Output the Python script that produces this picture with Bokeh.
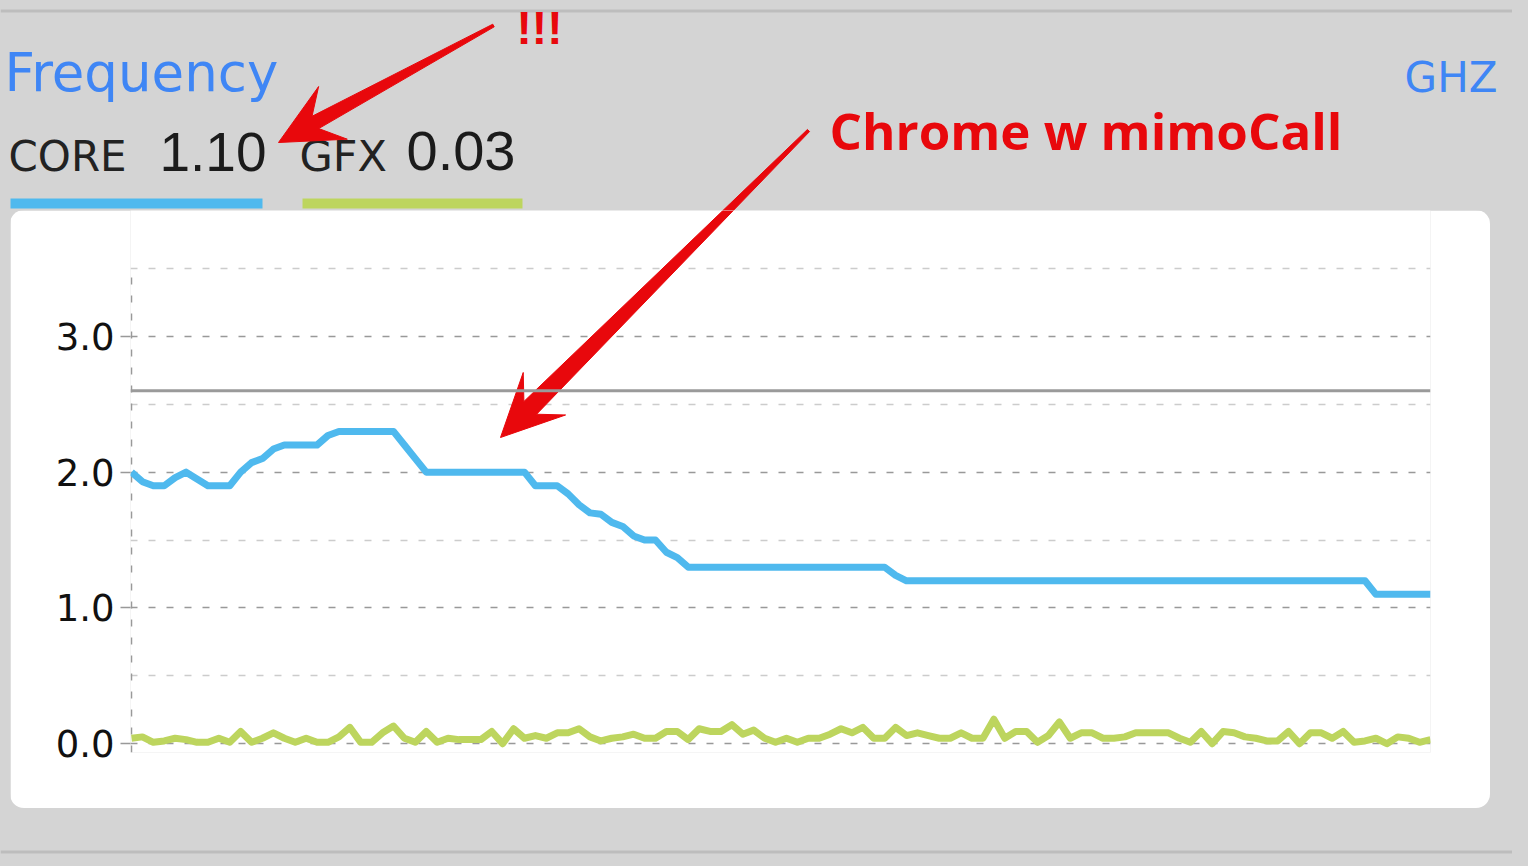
from bokeh.plotting import figure
from bokeh.layouts import column, row
from bokeh.models import (Range1d, FixedTicker, Span, PrintfTickFormatter, Spacer,
                          GlobalInlineStyleSheet)
from bokeh.core.properties import value
from bokeh.embed import file_html
from bokeh.resources import INLINE
import math

# ---------------- data ----------------
core_ghz = [
    2.0, 1.93, 1.9, 1.9, 1.96, 2.0, 1.95, 1.9, 1.9, 1.9,
    2.0, 2.07, 2.1, 2.17, 2.2, 2.2, 2.2, 2.2, 2.27, 2.3,
    2.3, 2.3, 2.3, 2.3, 2.3, 2.2, 2.1, 2.0, 2.0, 2.0,
    2.0, 2.0, 2.0, 2.0, 2.0, 2.0, 2.0, 1.9, 1.9, 1.9,
    1.84, 1.76, 1.7, 1.69, 1.63, 1.6, 1.53, 1.5, 1.5, 1.41,
    1.37, 1.3, 1.3, 1.3, 1.3, 1.3, 1.3, 1.3, 1.3, 1.3,
    1.3, 1.3, 1.3, 1.3, 1.3, 1.3, 1.3, 1.3, 1.3, 1.3,
    1.24, 1.2, 1.2, 1.2, 1.2, 1.2, 1.2, 1.2, 1.2, 1.2,
    1.2, 1.2, 1.2, 1.2, 1.2, 1.2, 1.2, 1.2, 1.2, 1.2,
    1.2, 1.2, 1.2, 1.2, 1.2, 1.2, 1.2, 1.2, 1.2, 1.2,
    1.2, 1.2, 1.2, 1.2, 1.2, 1.2, 1.2, 1.2, 1.2, 1.2,
    1.2, 1.2, 1.2, 1.2, 1.1, 1.1, 1.1, 1.1, 1.1, 1.1,
]
gfx_ghz = [
    0.04, 0.05, 0.01, 0.02, 0.04, 0.03, 0.01, 0.01, 0.04, 0.01,
    0.09, 0.01, 0.04, 0.08, 0.04, 0.01, 0.04, 0.01, 0.01, 0.05,
    0.12, 0.01, 0.01, 0.08, 0.13, 0.04, 0.01, 0.09, 0.01, 0.04,
    0.03, 0.03, 0.03, 0.09, 0.0, 0.11, 0.04, 0.06, 0.04, 0.08,
    0.08, 0.11, 0.05, 0.02, 0.04, 0.05, 0.07, 0.04, 0.04, 0.09,
    0.09, 0.03, 0.11, 0.09, 0.09, 0.14, 0.07, 0.10, 0.04, 0.01,
    0.04, 0.01, 0.04, 0.04, 0.07, 0.11, 0.08, 0.12, 0.04, 0.04,
    0.12, 0.06, 0.08, 0.06, 0.04, 0.04, 0.08, 0.04, 0.04, 0.18,
    0.04, 0.09, 0.09, 0.01, 0.06, 0.16, 0.04, 0.08, 0.08, 0.04,
    0.04, 0.05, 0.08, 0.08, 0.08, 0.08, 0.04, 0.01, 0.09, 0.0,
    0.09, 0.08, 0.05, 0.04, 0.02, 0.02, 0.09, 0.0, 0.08, 0.08,
    0.04, 0.09, 0.01, 0.02, 0.04, 0.0, 0.05, 0.04, 0.01, 0.03,
]
samples = list(range(len(core_ghz)))
max_ghz = 2.6
y_ticks = [0.0, 1.0, 2.0, 3.0]
y_minor_ticks = [0.5, 1.5, 2.5, 3.5]
title_text = "Frequency"
unit_text = "GHZ"
series_names = ["CORE", "GFX"]
note_text = "Chrome w mimoCall"
alarm_text = "!!!"

# ---------------- style / layout ----------------
W = 1512
HEAD_H = 210
PANEL_L, PANEL_R, PANEL_B = 10, 1490, 808
FRAME_L, FRAME_R, FRAME_B = 130, 1430, 752
Y0 = -0.065
PX_PER_UNIT = 135.76
X_PAD = 0.0916

CORE_COLOR = "#4fb9ee"
GFX_COLOR = "#bdd55e"
BLUE_TXT = "#3f86f5"
RED = "#e8080c"
BG = "#d4d4d4"
GRID = "#999999"

# ---------- header (page pixel coordinates, y downwards) ----------
head = figure(width=W, height=HEAD_H, output_backend="svg", toolbar_location=None,
              x_range=Range1d(0, W), y_range=Range1d(HEAD_H, 0),
              x_axis_location=None, y_axis_location=None,
              min_border=0, min_border_left=0, min_border_right=0,
              min_border_top=0, min_border_bottom=0)
head.outline_line_color = None
head.background_fill_color = BG
head.border_fill_color = BG
head.xgrid.visible = False
head.ygrid.visible = False

# separator line at the top
head.quad(left=0, right=W, top=9, bottom=12, fill_color="#bdbdbd", line_color=None)

def htext(x, baseline, text, size, color, font="DejaVu Sans", style="normal", align="left"):
    # the renderer places the given y about 0.4 em above the alphabetic baseline
    y = baseline - 0.4 * size
    head.text(x=[x], y=[y], text=[text], text_font=value(font), text_font_size="%dpx" % size,
              text_color=color, text_font_style=style, text_align=align,
              text_baseline="alphabetic")

htext(4, 93, title_text, 53, BLUE_TXT)
htext(1497, 94, unit_text, 42, BLUE_TXT, align="right")
htext(8, 173, series_names[0], 42, "#222222")
htext(159, 173, "%.2f" % core_ghz[-1], 55, "#1b1b1b", font="Liberation Sans")
htext(299, 173, series_names[1], 43, "#222222")
htext(406, 173, "%.2f" % gfx_ghz[-1], 56, "#1b1b1b", font="Liberation Sans")
head.quad(left=10, right=262, top=198, bottom=208, fill_color=CORE_COLOR, line_color=None)
head.quad(left=302, right=522, top=198, bottom=208, fill_color=GFX_COLOR, line_color=None)

htext(829, 150, note_text, 51, RED, font="Open Sans", style="bold")
htext(516, 46, alarm_text, 46, RED, font="Liberation Sans", style="bold")

def arrow_pts(tail, tip, w_tail=1.5, w_neck=8, neck_back=42, head_len=62, head_half=30):
    tx, ty = tail
    px_, py_ = tip
    L = math.hypot(px_ - tx, py_ - ty)
    ux, uy = (px_ - tx) / L, (py_ - ty) / L
    nx, ny = -uy, ux
    cx, cy = px_ - ux * neck_back, py_ - uy * neck_back
    wx, wy = px_ - ux * head_len, py_ - uy * head_len
    return [
        (tx + nx * w_tail, ty + ny * w_tail),
        (cx + nx * w_neck, cy + ny * w_neck),
        (wx + nx * head_half, wy + ny * head_half),
        (px_, py_),
        (wx - nx * head_half, wy - ny * head_half),
        (cx - nx * w_neck, cy - ny * w_neck),
        (tx - nx * w_tail, ty - ny * w_tail),
    ]

arrow1 = arrow_pts((493, 25), (278, 142), w_neck=7)
arrow2 = arrow_pts((808, 130), (500, 437), w_neck=9)
for pts in (arrow1, arrow2):
    head.patch([a for a, b in pts], [b for a, b in pts], fill_color=RED, line_color=RED,
               line_width=1)

# ---------- chart panel ----------
CW = PANEL_R - PANEL_L
CH = PANEL_B - HEAD_H
frame_h = FRAME_B - HEAD_H
y_top = Y0 + frame_h / PX_PER_UNIT
x_max = samples[-1]

p = figure(width=CW, height=CH, output_backend="svg", toolbar_location=None,
           x_range=Range1d(-X_PAD, x_max), y_range=Range1d(Y0, y_top),
           x_axis_location=None,
           min_border_left=FRAME_L - PANEL_L, min_border_right=PANEL_R - FRAME_R,
           min_border_top=0, min_border_bottom=PANEL_B - FRAME_B)
p.outline_line_color = None
p.background_fill_color = "white"
p.border_fill_color = "white"
p.xgrid.visible = False
p.styles = {"border-radius": "14px", "overflow": "hidden"}

ticker = FixedTicker(ticks=y_ticks, minor_ticks=y_minor_ticks)
ax = p.yaxis[0]
ax.ticker = ticker
ax.formatter = PrintfTickFormatter(format="%.1f")
ax.major_label_text_font = "DejaVu Sans"
ax.major_label_text_font_size = "37px"
ax.major_label_text_color = "#111111"
ax.major_label_standoff = 6
ax.axis_line_color = None
ax.major_tick_line_color = GRID
ax.major_tick_line_width = 1.5
ax.major_tick_out = 10
ax.major_tick_in = 0
ax.minor_tick_out = 0
ax.minor_tick_in = 0

g = p.ygrid[0]
g.ticker = ticker
g.grid_line_color = GRID
g.grid_line_dash = "7 11"
g.grid_line_width = 1.5
g.minor_grid_line_color = "#cccccc"
g.minor_grid_line_dash = "7 11"
g.minor_grid_line_width = 1.5

# dashed y-axis rule from the lowest to the highest grid line
p.segment(x0=[0], y0=[Y0], x1=[0], y1=[y_minor_ticks[-1]], line_color=GRID,
          line_width=1.5, line_dash="7 11")

p.add_layout(Span(location=max_ghz, dimension="width", line_color="#9a9a9a", line_width=3))

p.line(samples, core_ghz, line_color=CORE_COLOR, line_width=7, line_join="round")
p.line(samples, gfx_ghz, line_color=GFX_COLOR, line_width=7, line_join="round")

# the part of arrow 2 that reaches into the chart panel
def cx(px):
    return -X_PAD + (px - FRAME_L) * (x_max + X_PAD) / (FRAME_R - FRAME_L)

def cy(py):
    return Y0 + (FRAME_B - py) / PX_PER_UNIT

p.patch([cx(a) for a, b in arrow2], [cy(b) for a, b in arrow2], fill_color=RED,
        line_color=RED, line_width=1)

FOOT_H = 50
foot = figure(width=W, height=FOOT_H, output_backend="svg", toolbar_location=None,
              x_range=Range1d(0, W), y_range=Range1d(PANEL_B + FOOT_H, PANEL_B),
              x_axis_location=None, y_axis_location=None,
              min_border=0, min_border_left=0, min_border_right=0,
              min_border_top=0, min_border_bottom=0)
foot.outline_line_color = None
foot.background_fill_color = BG
foot.border_fill_color = BG
foot.xgrid.visible = False
foot.ygrid.visible = False
foot.quad(left=0, right=W, top=850, bottom=853, fill_color="#bdbdbd", line_color=None)

mid = row(Spacer(width=PANEL_L, height=CH, styles={"background-color": BG}), p,
          Spacer(width=W - PANEL_R, height=CH, styles={"background-color": BG}),
          styles={"background-color": BG})
layout = column(head, mid, foot, styles={"background-color": BG})
layout.stylesheets = [GlobalInlineStyleSheet(css="html, body { background: %s; }" % BG)]

open("out.html", "w").write(file_html(layout, INLINE))
